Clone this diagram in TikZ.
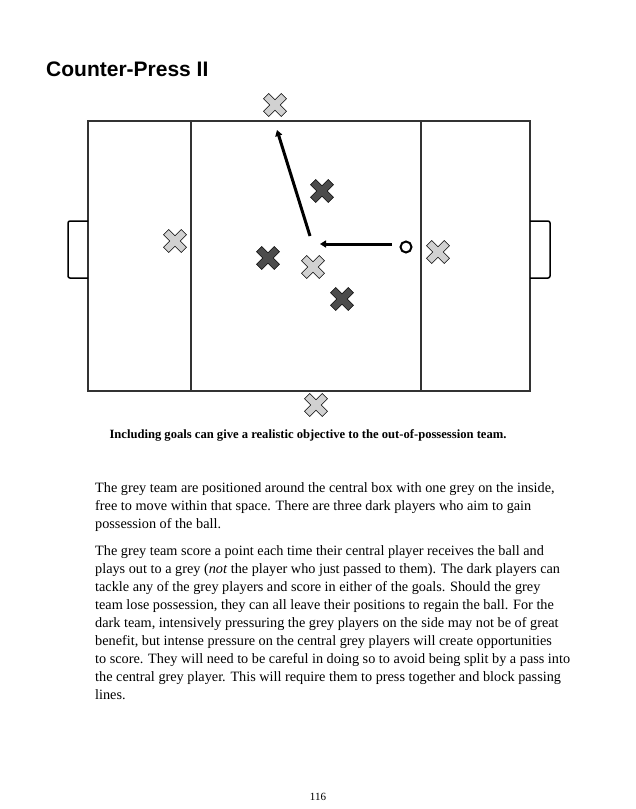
\documentclass[tikz,border=0pt]{standalone}
\usepackage{fontspec}
\setmainfont{Liberation Serif}
\newfontfamily\titlefont{Liberation Sans}
\usetikzlibrary{arrows.meta}
\tikzset{
  pitch/.style={draw=black!80, line width=1.1pt},
  goalbox/.style={draw=black, line width=1.5pt},
  pass/.style={line width=3pt, -{Triangle[length=6pt,width=7pt]}},
  greyx/.style={fill=black!18},
  darkx/.style={fill=black!70},
  bodyline/.style={anchor=base west, inner sep=0pt, font=\fontsize{14.25}{16}\selectfont},
  pics/player/.style={code={
    \path[draw=black, line width=0.5pt, #1, rotate=45]
      (-3.7,-12.5)--(3.7,-12.5)--(3.7,-3.7)--(12.5,-3.7)--(12.5,3.7)--(3.7,3.7)--(3.7,12.5)
      --(-3.7,12.5)--(-3.7,3.7)--(-12.5,3.7)--(-12.5,-3.7)--(-3.7,-3.7)--cycle;}}
}
\begin{document}
\begin{tikzpicture}[x=1pt,y=-1pt]
\useasboundingbox (0,0) rectangle (636,809);
\fill[white] (0,0) rectangle (636,809);
\node[anchor=base west, inner sep=0pt, font=\titlefont\bfseries\fontsize{21}{24}\selectfont] (title) at (46,76) {Counter-Press II};
% pitch
\draw[pitch] (88,121) rectangle (530,391);
\draw[pitch] (191,121) -- (191,391);
\draw[pitch] (421,121) -- (421,391);
\draw[goalbox, rounded corners=2pt] (88,221) -- (68,221) -- (68,278) -- (88,278);
\draw[goalbox, rounded corners=2pt] (530,221) -- (550,221) -- (550,278) -- (530,278);
% ball and passes
\node[circle, draw=black, line width=2pt, minimum size=11pt, inner sep=0pt] (ball) at (406,247) {};
\coordinate (p1s) at (392,244);
\coordinate (p1e) at (320,244);
\coordinate (p2s) at (310,236);
\coordinate (p2e) at (277,130);
\draw[pass] (p1s) -- (p1e);
\draw[pass] (p2s) -- (p2e);
% players
\pic at (275,105) {player=greyx};
\pic at (175,241) {player=greyx};
\pic at (438,252) {player=greyx};
\pic at (316,405) {player=greyx};
\pic at (313,267) {player=greyx};
\pic at (322,191) {player=darkx};
\pic at (268,258) {player=darkx};
\pic at (342,299) {player=darkx};
% caption
\node[inner sep=0pt, font=\bfseries\fontsize{12.6}{14}\selectfont] (cap) at (308,435) {Including goals can give a realistic objective to the out-of-possession team.};
% body
\node[bodyline] (l1) at (95,492) {The grey team are positioned around the central box with one grey on the inside,};
\node[bodyline] (l2) at (95,510) {free to move within that space. There are three dark players who aim to gain};
\node[bodyline] (l3) at (95,528) {possession of the ball.};
\node[bodyline] (l4) at (95,555) {The grey team score a point each time their central player receives the ball and};
\node[bodyline] (l5) at (95,573) {plays out to a grey (\textit{not} the player who just passed to them). The dark players can};
\node[bodyline] (l6) at (95,591) {tackle any of the grey players and score in either of the goals. Should the grey};
\node[bodyline] (l7) at (95,609) {team lose possession, they can all leave their positions to regain the ball. For the};
\node[bodyline] (l8) at (95,627) {dark team, intensively pressuring the grey players on the side may not be of great};
\node[bodyline] (l9) at (95,645) {benefit, but intense pressure on the central grey players will create opportunities};
\node[bodyline] (l10) at (95,663) {to score. They will need to be careful in doing so to avoid being split by a pass into};
\node[bodyline] (l11) at (95,681) {the central grey player. This will require them to press together and block passing};
\node[bodyline] (l12) at (95,699) {lines.};
\node[inner sep=0pt, font=\fontsize{11}{13}\selectfont] (pg) at (318,797) {116};
\end{tikzpicture}
\end{document}
